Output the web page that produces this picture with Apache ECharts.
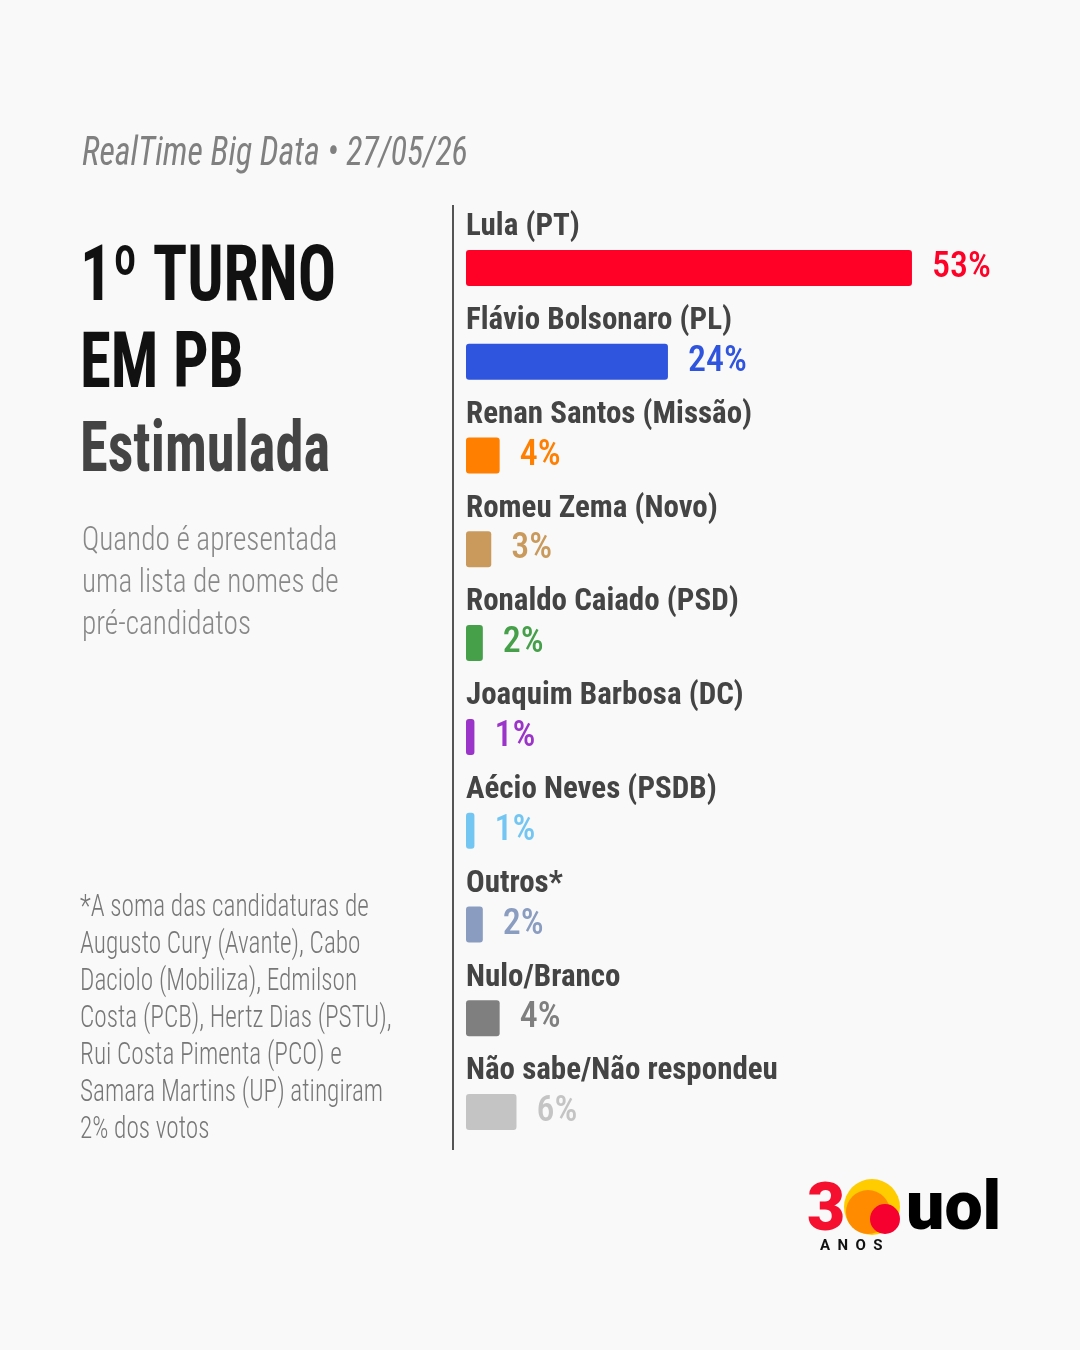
<!DOCTYPE html>
<html>
<head>
<meta charset="utf-8">
<script src="https://cdn.jsdelivr.net/npm/echarts@6/dist/echarts.min.js"></script>
<style>
  html, body { margin: 0; padding: 0; background: #f9f9f9; }
  #main { width: 1080px; height: 1350px; }
</style>
</head>
<body>
<div id="main"></div>
<script>
var FONT = '"Roboto Condensed", "Roboto", sans-serif';

var candidates = ['Lula (PT)', 'Flávio Bolsonaro (PL)', 'Renan Santos (Missão)', 'Romeu Zema (Novo)',
    'Ronaldo Caiado (PSD)', 'Joaquim Barbosa (DC)', 'Aécio Neves (PSDB)', 'Outros*',
    'Nulo/Branco', 'Não sabe/Não respondeu'];
var values = [53, 24, 4, 3, 2, 1, 1, 2, 4, 6];
var barColors = ['#ff0026', '#2f54de', '#ff7f00', '#c99a5b', '#46a04a', '#9b35c9', '#74c6f2', '#8a9dc0',
    '#7f7f7f', '#c4c4c4'];

var subtitleLines = ['Quando é apresentada', 'uma lista de nomes de', 'pré-candidatos'];
var footnoteLines = ['*A soma das candidaturas de', 'Augusto Cury (Avante), Cabo', 'Daciolo (Mobiliza), Edmilson',
    'Costa (PCB), Hertz Dias (PSTU),', 'Rui Costa Pimenta (PCO) e', 'Samara Martins (UP) atingiram',
    '2% dos votos'];

var chart = echarts.init(document.getElementById('main'));

var valueData = values.map(function (v, i) {
    return {
        value: v,
        itemStyle: { color: barColors[i], borderRadius: 3 },
        label: { color: barColors[i] }
    };
});

var nameData = values.map(function (v, i) {
    return { value: v, name: candidates[i] };
});

// condensed text block helper (font is wider than the original one)
function txt(x, y, text, font, fill, sx, lh) {
    return {
        type: 'text', x: x, y: y, scaleX: sx, scaleY: 1,
        style: { text: text, font: font, fill: fill, lineHeight: lh, align: 'left', verticalAlign: 'top' }
    };
}

var option = {
    backgroundColor: '#f9f9f9',
    animation: false,
    grid: { left: 466, right: 25, top: 221, bottom: 191 },
    xAxis: {
        type: 'value', min: 0, max: 70,
        show: false
    },
    yAxis: {
        type: 'category', inverse: true,
        data: candidates,
        axisLine: { show: false }, axisTick: { show: false }, axisLabel: { show: false }
    },
    series: [
        {
            type: 'bar',
            data: valueData,
            barWidth: 36,
            label: {
                show: true, position: 'right', distance: 20,
                fontFamily: FONT, fontSize: 36, fontWeight: 500,
                formatter: '{c}%'
            }
        },
        {
            type: 'bar',
            data: nameData,
            barWidth: 36,
            barGap: '-100%',
            silent: true,
            itemStyle: { color: 'rgba(0,0,0,0)' },
            label: {
                show: true, position: [0, -7],
                align: 'left', verticalAlign: 'bottom',
                fontFamily: FONT, fontSize: 31, fontWeight: 'bold', color: '#444',
                formatter: '{b}'
            }
        }
    ],
    graphic: [
        { type: 'line', shape: { x1: 453, y1: 205, x2: 453, y2: 1150 }, style: { stroke: '#555', lineWidth: 2 } },
        txt(82, 135, 'RealTime Big Data • 27/05/26', 'italic 400 40px ' + FONT, '#808080', 0.846),
        txt(80, 241, '1º TURNO', 'bold 78px ' + FONT, '#111', 0.816),
        txt(80, 328, 'EM PB', 'bold 78px ' + FONT, '#111', 0.805),
        txt(80, 418, 'Estimulada', 'bold 70px ' + FONT, '#444', 0.807),
        txt(82, 520, subtitleLines.join('\n'), '300 34px ' + FONT, '#888', 0.86, 42),
        txt(80, 890, footnoteLines.join('\n'), '300 31px ' + FONT, '#777', 0.815, 37),
        // logo
        {
            type: 'group', x: 806, y: 1176,
            children: [
                { type: 'circle', shape: { cx: 66, cy: 31, r: 28 }, style: { fill: '#ffcc00' } },
                { type: 'circle', shape: { cx: 62, cy: 36, r: 22 }, style: { fill: '#ff8c00' } },
                { type: 'circle', shape: { cx: 79, cy: 43, r: 15 }, style: { fill: '#f5002f' } },
                {
                    type: 'text', x: 1, y: 4,
                    style: { text: '3', font: '900 66px "Roboto", sans-serif', fill: '#f5102f' }
                },
                {
                    type: 'text', x: 100, y: 2,
                    style: { text: 'uol', font: '900 68px "Roboto", sans-serif', fill: '#000' }
                },
                {
                    type: 'text', x: 14, y: 63,
                    style: { text: 'A  N  O  S', font: 'bold 15px "Roboto", sans-serif', fill: '#111' }
                }
            ]
        }
    ]
};

chart.setOption(option);
</script>
</body>
</html>
